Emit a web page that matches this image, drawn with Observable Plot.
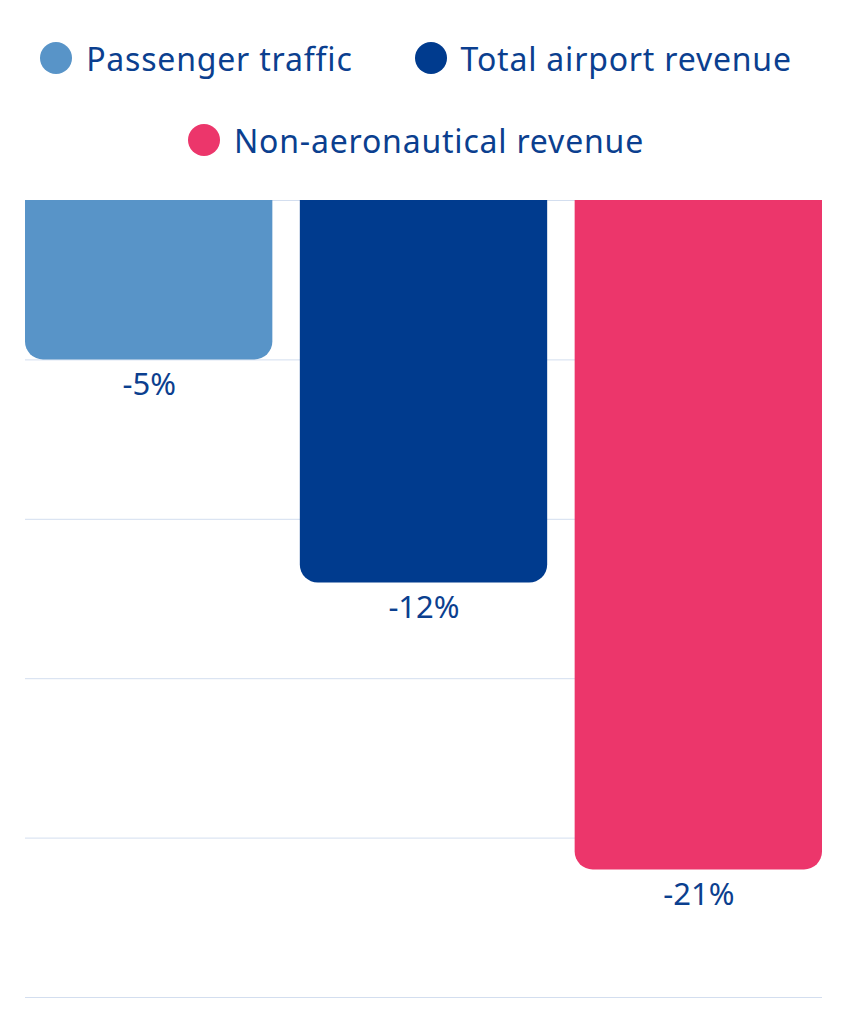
<!DOCTYPE html>
<html>
<head>
<meta charset="utf-8">
<script src="https://cdn.jsdelivr.net/npm/d3@7"></script>
<script src="https://cdn.jsdelivr.net/npm/@observablehq/plot@0.6"></script>
<style>
  body { margin: 0; background: #ffffff; font-family: "Noto Sans", sans-serif; color: #0b3f8f; }
  #legend { display: flex; flex-wrap: wrap; justify-content: center; width: 832px; padding-top: 17px; column-gap: 62px; }
  .item { display: flex; align-items: center; height: 82px; font-size: 32px; letter-spacing: 0.8px; white-space: nowrap; }
  .swatch { width: 32px; height: 32px; border-radius: 50%; margin-right: 14px; flex: none; }
  #chart svg { display: block; }
</style>
</head>
<body>
<div id="legend"></div>
<div id="chart"></div>
<script>
// Change in each measure (%)
const categories = ["Passenger traffic", "Total airport revenue", "Non-aeronautical revenue"];
const values = [-5, -12, -21];
const colors = ["#5894c8", "#003b8e", "#ec366b"];
const gridTicks = [0, -5, -10, -15, -20, -25];

const data = categories.map((category, i) => ({ category, value: values[i] }));

// Legend above the chart
const legend = d3.select("#legend");
categories.forEach((c, i) => {
  const item = legend.append("div").attr("class", "item");
  item.append("span").attr("class", "swatch").style("background", colors[i]);
  item.append("span").text(c);
});

const chart = Plot.plot({
  width: 848,
  height: 843,
  marginTop: 19,
  marginBottom: 27,
  marginLeft: 25,
  marginRight: 26,
  style: { fontFamily: "Noto Sans, sans-serif", background: "#ffffff" },
  x: { domain: categories, paddingInner: 0.1, paddingOuter: 0, round: false, axis: null },
  y: { domain: [-25, 0], axis: null },
  color: { domain: categories, range: colors },
  marks: [
    Plot.gridY(gridTicks, { stroke: "#d3deef", strokeOpacity: 1, strokeWidth: 1 }),
    // bars hang from zero; rounded corners only show at the bottom (top is clipped at the frame)
    Plot.barY(data, { x: "category", y: "value", fill: "category", rx: 18, insetTop: -30, clip: true }),
    Plot.text(data, {
      x: "category",
      y: "value",
      text: d => `${d.value}%`,
      dy: 25,
      lineAnchor: "middle",
      fill: "#0b3f8f",
      fontSize: 31
    })
  ]
});
document.getElementById("chart").appendChild(chart);
</script>
</body>
</html>
